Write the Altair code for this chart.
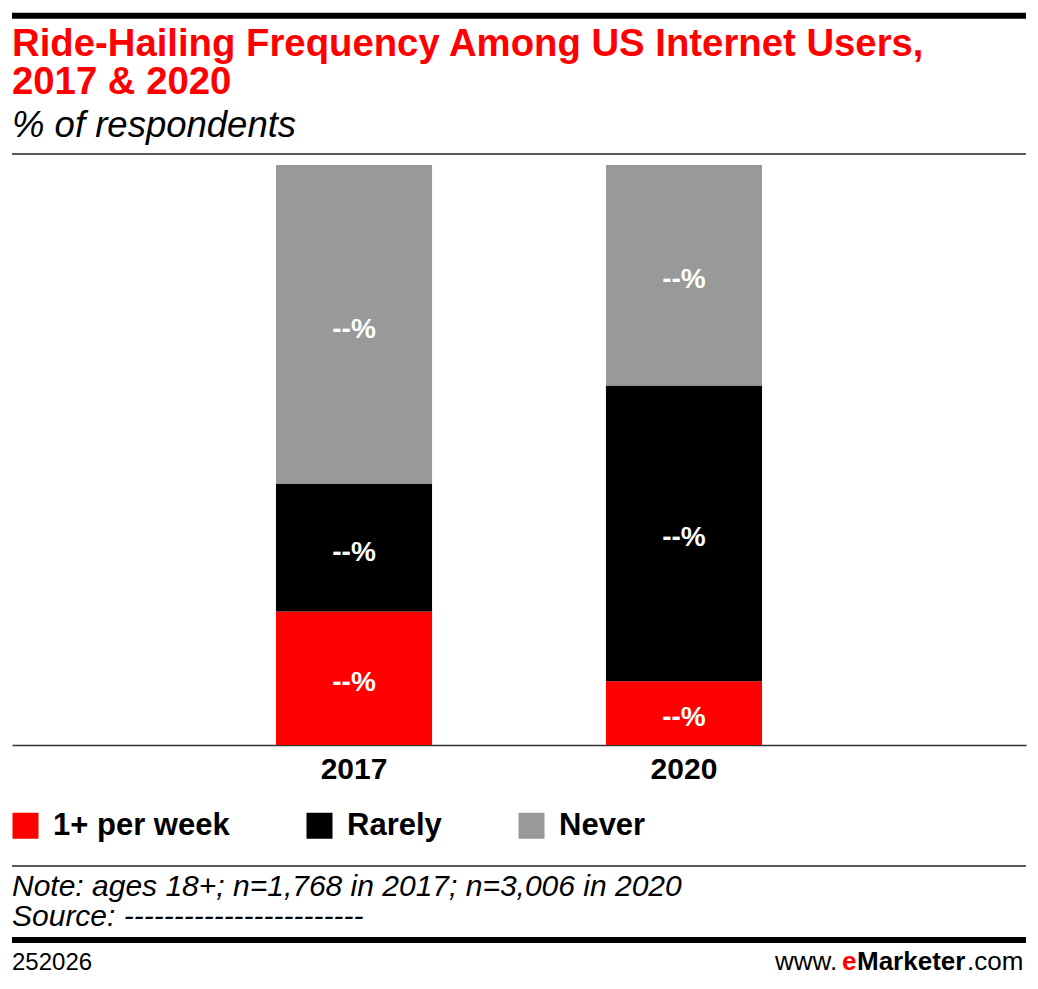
import altair as alt
import pandas as pd

# ---- data ----
years = ["2017", "2020"]
segments = ["1+ per week", "Rarely", "Never"]
values_2017 = [23, 22, 55]
values_2020 = [11, 51, 38]
value_labels = ["--%", "--%", "--%"]
colors = ["#ff0000", "#000000", "#999999"]

title_lines = ["Ride-Hailing Frequency Among US Internet Users,", "2017 & 2020"]
subtitle = "% of respondents"
note = "Note: ages 18+; n=1,768 in 2017; n=3,006 in 2020"
source = "Source: ------------------------"
chart_id = "252026"

rows = []
for yr, vals in zip(years, [values_2017, values_2020]):
    for i, (seg, v, lab) in enumerate(zip(segments, vals, value_labels)):
        rows.append({"year": yr, "segment": seg, "value": v, "order": i, "label": lab})
df = pd.DataFrame(rows)

W, H = 1014, 580

x_enc = alt.X("year:N", sort=years,
              scale=alt.Scale(paddingInner=0.527, paddingOuter=0.8),
              axis=alt.Axis(title=None, labelAngle=0, ticks=False, tickSize=0,
                            labelFont="Liberation Sans", labelFontSize=30,
                            labelFontWeight="bold", labelColor="#000000",
                            labelBaseline="alphabetic", labelPadding=33,
                            domainColor="#333333", domainWidth=1.5, grid=False))

base = alt.Chart(df)

bars = base.mark_bar(stroke=None).encode(
    x=x_enc,
    y=alt.Y("value:Q", stack="zero", scale=alt.Scale(domain=[0, 100]), axis=None),
    color=alt.Color("segment:N", sort=segments,
                    scale=alt.Scale(domain=segments, range=colors),
                    legend=alt.Legend(title=None, orient="none", legendX=-2, legendY=645,
                                      direction="horizontal", symbolType="square",
                                      symbolSize=676, symbolStrokeWidth=0,
                                      symbolOpacity=1, labelFont="Liberation Sans",
                                      labelFontSize=31, labelFontWeight="bold",
                                      labelColor="#000000", labelOffset=12,
                                      labelLimit=400, columnPadding=74, padding=0)),
    order=alt.Order("order:Q", sort="ascending"),
)

labels = base.transform_stack(
    stack="value", groupby=["year"], as_=["v0", "v1"],
    sort=[alt.SortField("order", order="ascending")]
).transform_calculate(mid="(datum.v0 + datum.v1) / 2").mark_text(
    font="Liberation Sans", fontSize=28, fontWeight="bold", color="#ffffff",
    baseline="middle", align="center", dy=5
).encode(
    x=alt.X("year:N", sort=years),
    y=alt.Y("mid:Q", scale=alt.Scale(domain=[0, 100])),
    text="label:N",
)


def rule(y, width, color="#000000"):
    return alt.Chart(pd.DataFrame({"a": [0]})).mark_rule(
        color=color, strokeWidth=width
    ).encode(x=alt.value(0), x2=alt.value(W), y=alt.value(y))


def txt(s, x, y, size, weight="normal", style="normal", color="#000000",
        align="left", font="Liberation Sans"):
    return alt.Chart(pd.DataFrame({"t": [s]})).mark_text(
        font=font, fontSize=size, fontWeight=weight, fontStyle=style,
        color=color, align=align, baseline="alphabetic"
    ).encode(x=alt.value(x), y=alt.value(y), text="t:N")


layers = [
    bars, labels,
    rule(-149.3, 6),
    txt(title_lines[0], 0, -109, 38.3, weight="bold", color="#ff0000"),
    txt(title_lines[1], 0, -71, 38.3, weight="bold", color="#ff0000"),
    txt(subtitle, 0, -28, 36.5, style="italic"),
    rule(-11, 1.5, "#222222"),
    rule(701, 1.5, "#222222"),
    txt(note, 0, 731, 30, style="italic"),
    txt(source, 0, 761, 30, style="italic"),
    rule(775, 6),
    txt(chart_id, 0, 805, 24),
    txt("www.", 763, 805, 26),
    txt("e", 830, 805, 26, weight="bold", color="#ff0000"),
    txt("Marketer", 845, 805, 26, weight="bold"),
    txt(".com", 955, 805, 26),
]

chart = alt.layer(*layers).properties(
    width=W, height=H,
    autosize=alt.AutoSizeParams(type="none"),
    padding={"left": 4, "top": 157, "right": 4, "bottom": 236},
    background="#ffffff",
).configure_view(stroke=None, strokeWidth=0)

chart.save("out.html", embed_options={"renderer": "svg", "actions": False})
